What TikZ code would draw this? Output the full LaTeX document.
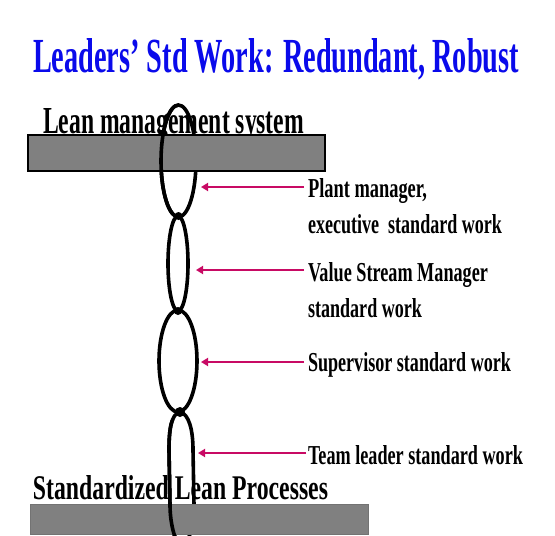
\documentclass[tikz,border=0pt]{standalone}
\usepackage{fontspec}
\setmainfont{Liberation Serif}
\usepackage{graphicx}
\usetikzlibrary{arrows.meta}
\definecolor{arrowcol}{RGB}{200,10,100}
\definecolor{barcol}{RGB}{128,128,128}
\definecolor{titlecol}{RGB}{10,10,235}
\newcommand{\fitbox}[3]{\resizebox{#1pt}{#2pt}{\bfseries #3}}
\begin{document}
\begin{tikzpicture}[x=1pt,y=-1pt,
  chain/.style={line width=3.6pt, draw=black},
  barbox/.style={fill=barcol, draw=black, line width=1.2pt},
  lbl/.style={anchor=base west, inner sep=0pt, outer sep=0pt},
  pointer/.style={draw=arrowcol, line width=2.6pt, -{Triangle[length=7pt,width=8pt]}},
  knot/.style={circle, fill=black, inner sep=0pt, minimum size=8pt}]
\clip (0,0) rectangle (555,536);
\fill[white] (0,0) rectangle (555,536);

% texts
\node[lbl, text=titlecol] (title) at (33,72) {\fitbox{486}{34}{Leaders’ Std Work: Redundant, Robust}};
\node[lbl] (topname) at (43,133) {\fitbox{261}{25}{Lean management system}};
\node[lbl] (botname) at (33,499) {\fitbox{295}{24}{Standardized Lean Processes}};

\node[lbl] (plant) at (308,197) {\fitbox{119}{19}{Plant manager,}};
\node[lbl] (exec) at (308,233) {\fitbox{194}{19}{executive\ \ standard work}};
\node[lbl] (vsm) at (308,281) {\fitbox{180}{19}{Value Stream Manager}};
\node[lbl] (vsmstd) at (308,317) {\fitbox{114}{19}{standard work}};
\node[lbl] (sup) at (308,371) {\fitbox{203}{19}{Supervisor standard work}};
\node[lbl] (team) at (308,464) {\fitbox{215}{19}{Team leader standard work}};

% chain links (full, behind bars)
\draw[chain] (178.5,161) ellipse [x radius=17.5pt, y radius=56pt];
\draw[chain] (178,263.5) ellipse [x radius=10pt, y radius=47.5pt];
\draw[chain] (178,361) ellipse [x radius=19pt, y radius=51pt];
\draw[chain] (180,412) .. controls (171,414) and (169,430) .. (169,450) -- (170,505)
  .. controls (170,525) and (176,546) .. (182,546)
  .. controls (188,546) and (194,525) .. (194,505) -- (193,450)
  .. controls (193,430) and (189,414) .. (180,412);

% bars
\draw[barbox] (28,135) rectangle (325,171);
\draw[fill=barcol, draw=black!55, line width=0.8pt] (30,504) rectangle (368,534);

% left strands in front of bars
\begin{scope}
\clip (0,100) rectangle (178.5,215);
\draw[chain] (178.5,161) ellipse [x radius=17.5pt, y radius=56pt];
\end{scope}
\begin{scope}
\clip (0,420) rectangle (181,540);
\draw[chain] (180,412) .. controls (171,414) and (169,430) .. (169,450) -- (170,505)
  .. controls (170,525) and (176,546) .. (182,546);
\end{scope}

% junction knots
\node[knot] (k1) at (178.5,216) {};
\node[knot] (k2) at (178,311) {};
\node[knot, minimum size=10pt] (k3) at (180,412) {};

% pointers
\coordinate (p1s) at (304,187); \coordinate (p1e) at (201,187);
\coordinate (p2s) at (304,270); \coordinate (p2e) at (196,270);
\coordinate (p3s) at (304,362); \coordinate (p3e) at (201,362);
\coordinate (p4s) at (306,453); \coordinate (p4e) at (198,453);
\draw[pointer] (p1s) -- (p1e);
\draw[pointer] (p2s) -- (p2e);
\draw[pointer] (p3s) -- (p3e);
\draw[pointer] (p4s) -- (p4e);
\end{tikzpicture}
\end{document}
